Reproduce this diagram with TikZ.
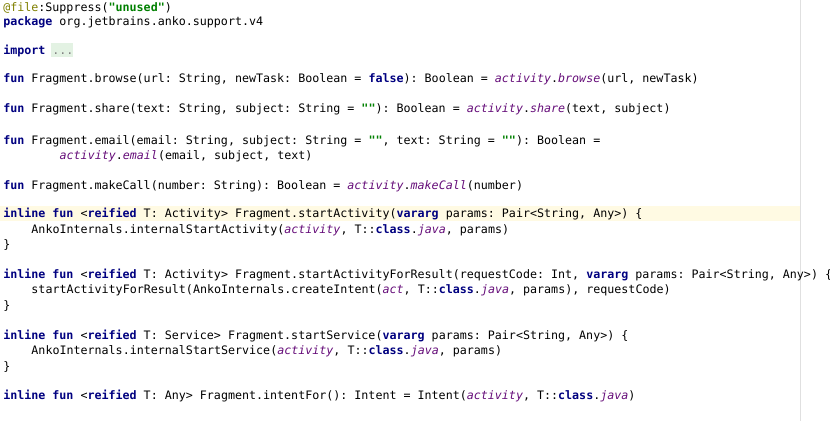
\documentclass[tikz,border=0pt]{standalone}
\usepackage{fontspec}
\setmonofont{DejaVu Sans Mono}
\definecolor{kw}{HTML}{000080}
\definecolor{st}{HTML}{008000}
\definecolor{pu}{HTML}{660E7A}
\definecolor{an}{HTML}{808000}
\definecolor{hl}{HTML}{FFFAE3}
\definecolor{ib}{HTML}{E3F2E3}
\newcommand{\K}[1]{\textcolor{kw}{\textbf{#1}}}
\newcommand{\Sg}[1]{\textcolor{st}{\textbf{#1}}}
\newcommand{\Pu}[1]{\textcolor{pu}{\textit{#1}}}
\begin{document}
\begin{tikzpicture}[x=0.75pt,y=-0.75pt,
  code/.style={anchor=base west,inner sep=0pt,font=\ttfamily\fontsize{8.75pt}{10pt}\selectfont}]
\useasboundingbox (0,0) rectangle (830,421);
\fill[white] (0,0) rectangle (830,421);
\fill[hl] (0,206) rectangle (800,221);
\draw[black!12] (800.5,0) -- (800.5,421);
\fill[ib] (51,43) rectangle (73,57);
\node[code] (l0) at (3,12) {\textcolor{an}{@file}:Suppress(\Sg{"unused"})};
\node[code] (l1) at (3,26) {\K{package} org.jetbrains.anko.support.v4};
\node[code] (l3) at (3,54) {\K{import} \textcolor{gray}{...}};
\node[code] (l5) at (3,82) {\K{fun} Fragment.browse(url: String, newTask: Boolean = \K{false}): Boolean = \Pu{activity}.\Pu{browse}(url, newTask)};
\node[code] (l7) at (3,112) {\K{fun} Fragment.share(text: String, subject: String = \Sg{""}): Boolean = \Pu{activity}.\Pu{share}(text, subject)};
\node[code] (l9) at (3,144) {\K{fun} Fragment.email(email: String, subject: String = \Sg{""}, text: String = \Sg{""}): Boolean =};
\node[code] (l10) at (59.4,159) {\Pu{activity}.\Pu{email}(email, subject, text)};
\node[code] (l12) at (3,189) {\K{fun} Fragment.makeCall(number: String): Boolean = \Pu{activity}.\Pu{makeCall}(number)};
\node[code] (l14) at (3,217) {\K{inline fun} <\K{reified} T: Activity> Fragment.startActivity(\K{vararg} params: Pair<String, Any>) \{};
\node[code] (l15) at (31.2,233) {AnkoInternals.internalStartActivity(\Pu{activity}, T::\K{class}.\Pu{java}, params)};
\node[code] (l16) at (3,248) {\}};
\node[code] (l18) at (3,278) {\K{inline fun} <\K{reified} T: Activity> Fragment.startActivityForResult(requestCode: Int, \K{vararg} params: Pair<String, Any>) \{};
\node[code] (l19) at (31.2,293) {startActivityForResult(AnkoInternals.createIntent(\Pu{act}, T::\K{class}.\Pu{java}, params), requestCode)};
\node[code] (l20) at (3,309) {\}};
\node[code] (l22) at (3,339) {\K{inline fun} <\K{reified} T: Service> Fragment.startService(\K{vararg} params: Pair<String, Any>) \{};
\node[code] (l23) at (31.2,354) {AnkoInternals.internalStartService(\Pu{activity}, T::\K{class}.\Pu{java}, params)};
\node[code] (l24) at (3,370) {\}};
\node[code] (l26) at (3,399) {\K{inline fun} <\K{reified} T: Any> Fragment.intentFor(): Intent = Intent(\Pu{activity}, T::\K{class}.\Pu{java})};
\end{tikzpicture}
\end{document}
